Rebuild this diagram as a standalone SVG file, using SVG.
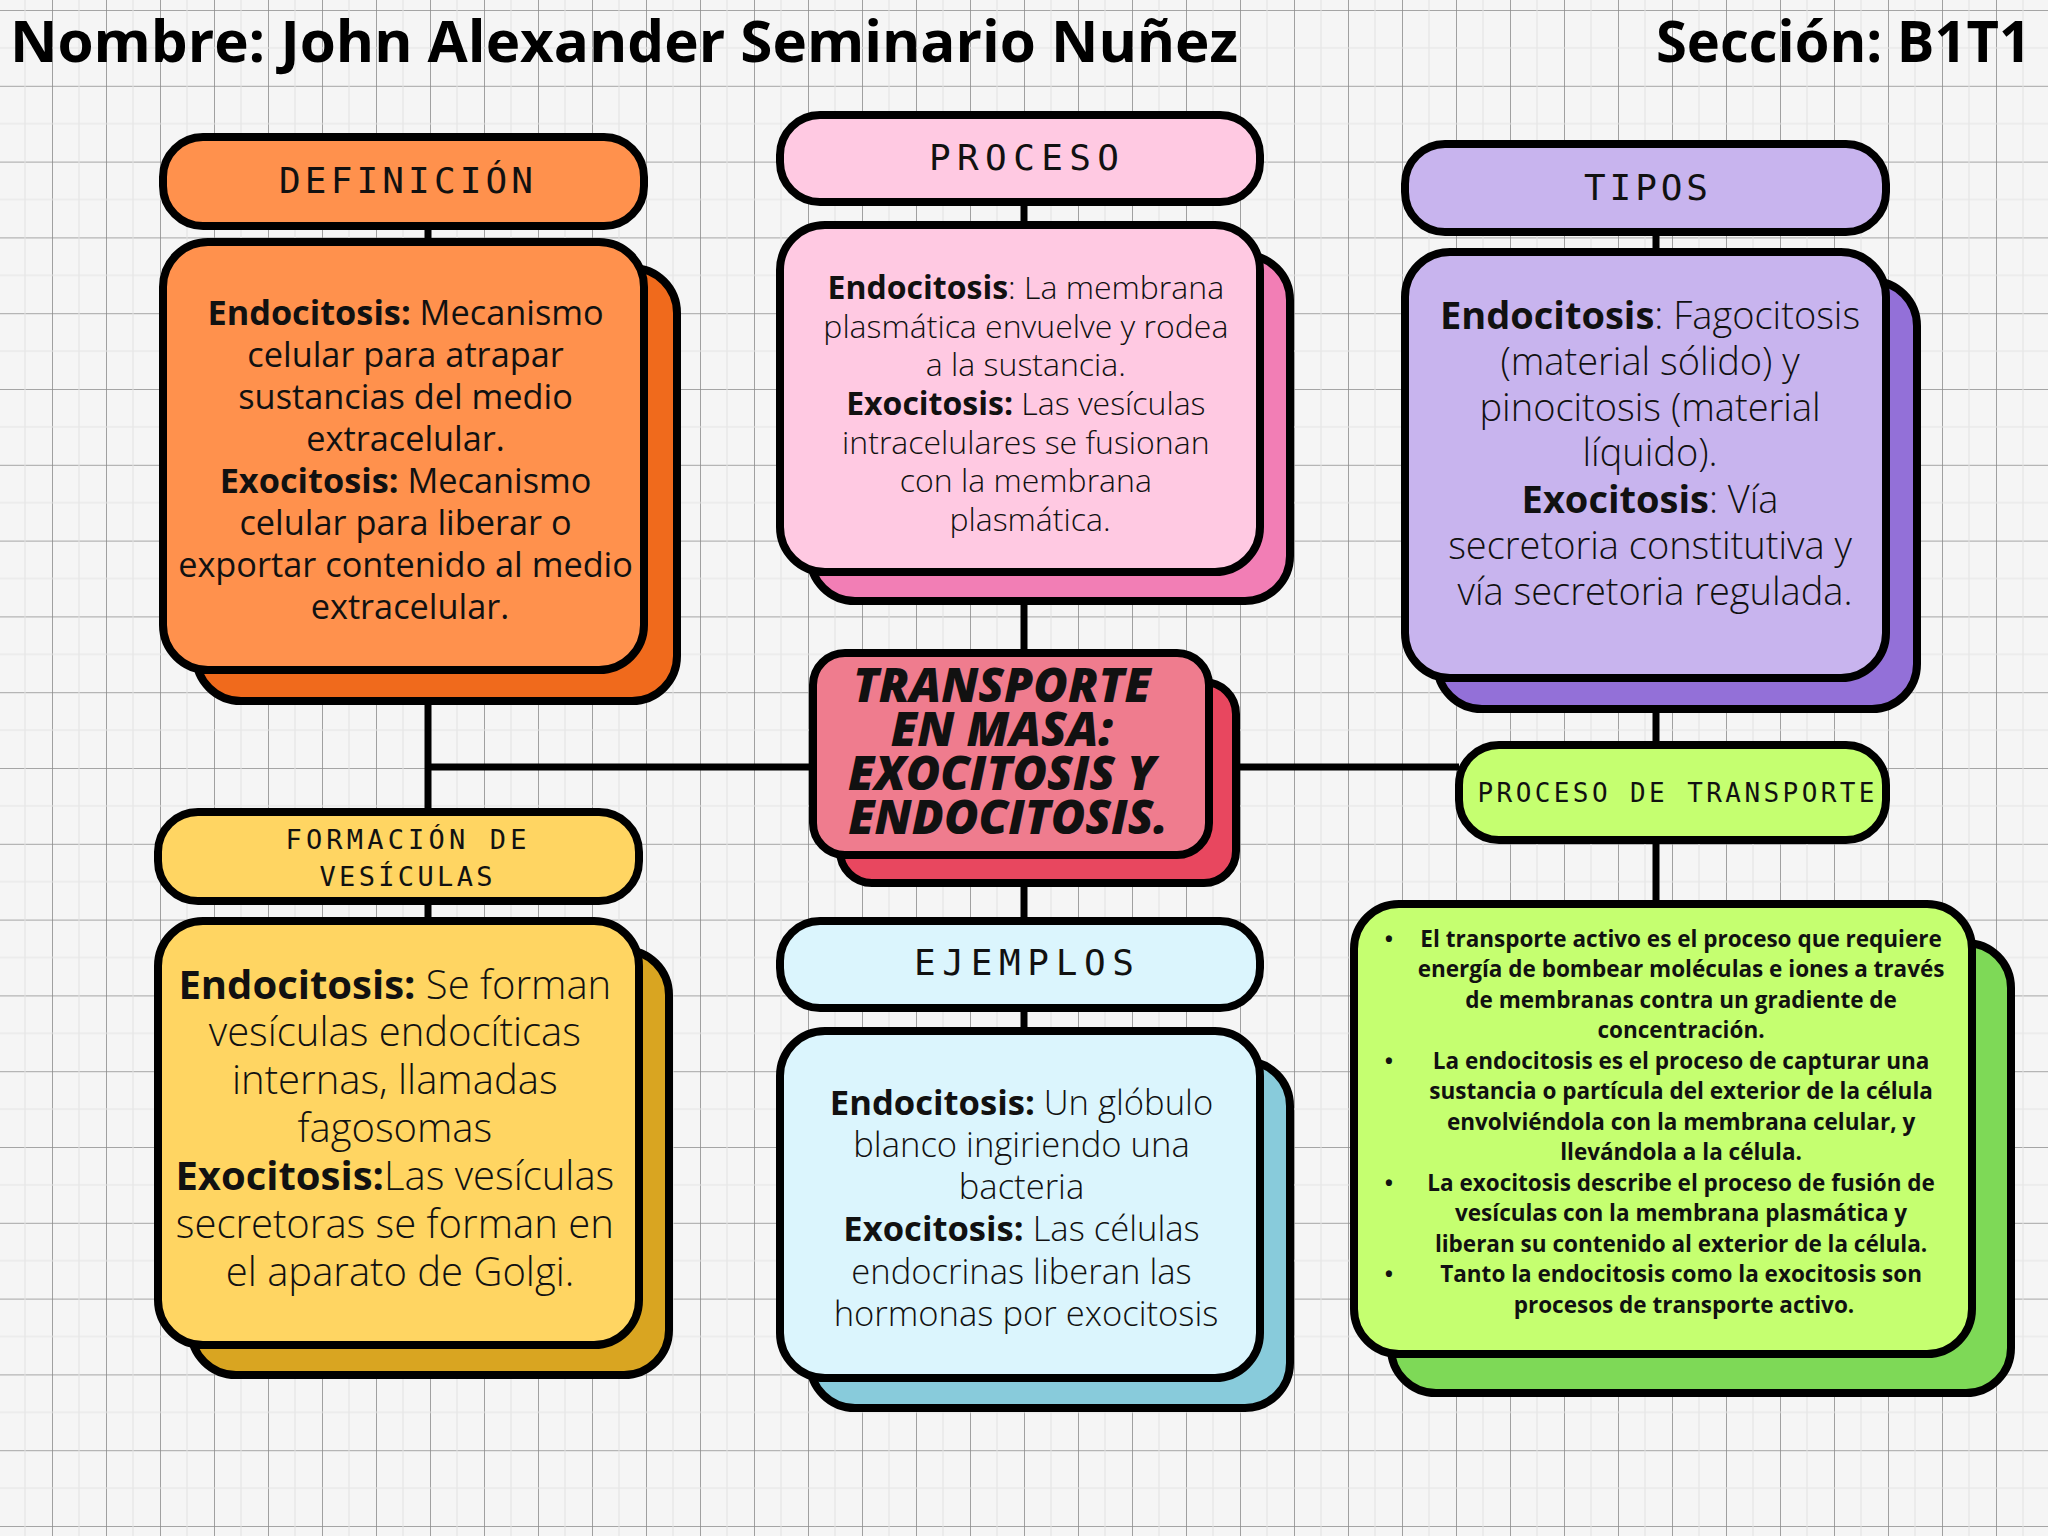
<svg xmlns="http://www.w3.org/2000/svg" width="2048" height="1536" viewBox="0 0 2048 1536">
<defs>
<pattern id="grid" patternUnits="userSpaceOnUse" x="52" y="10" width="54" height="75.8">
<line x1="0" y1="0" x2="0" y2="75.8" stroke="#8a8a8a" stroke-width="1.6"/>
<line x1="0" y1="0" x2="54" y2="0" stroke="#8a8a8a" stroke-width="1.6"/>
<line x1="27" y1="0" x2="27" y2="75.8" stroke="#e2e2e2" stroke-width="1"/>
<line x1="0" y1="37.9" x2="54" y2="37.9" stroke="#e4e4e4" stroke-width="1"/>
</pattern>
<style>
.box{stroke:#000;stroke-width:8}
.conn{stroke:#000;stroke-width:7;fill:none}
.hdr{font-family:"DejaVu Sans Mono","Liberation Mono",monospace;fill:#111;text-anchor:middle}
.body{font-family:"Open Sans","Liberation Sans",sans-serif;fill:#111;text-anchor:middle}
.b{font-weight:700}
.title{font-family:"Open Sans","Liberation Sans",sans-serif;font-weight:700;font-size:57px;fill:#000}
</style>
</defs>
<rect x="0" y="0" width="2048" height="1536" fill="#f5f5f5"/>
<rect x="0" y="0" width="2048" height="1536" fill="url(#grid)"/>

<text class="title" x="10" y="62" textLength="1228" lengthAdjust="spacingAndGlyphs">Nombre: John Alexander Seminario Nuñez</text>
<text class="title" x="1656" y="62" textLength="375" lengthAdjust="spacingAndGlyphs">Sección: B1T1</text>

<g id="connectors">
<line class="conn" x1="428" y1="226" x2="428" y2="246"/>
<line class="conn" x1="428" y1="700" x2="428" y2="815"/>
<line class="conn" x1="428" y1="767" x2="1459" y2="767"/>
<line class="conn" x1="428" y1="900" x2="428" y2="923"/>
<line class="conn" x1="1024" y1="200" x2="1024" y2="228"/>
<line class="conn" x1="1024" y1="600" x2="1024" y2="655"/>
<line class="conn" x1="1024" y1="882" x2="1024" y2="924"/>
<line class="conn" x1="1024" y1="1006" x2="1024" y2="1034"/>
<line class="conn" x1="1656" y1="230" x2="1656" y2="255"/>
<line class="conn" x1="1656" y1="707" x2="1656" y2="748"/>
<line class="conn" x1="1656" y1="838" x2="1656" y2="907"/>
</g>

<g id="definicion">
<rect class="box" x="163" y="137" width="481" height="89" rx="40" fill="#FF914D"/>
<text class="hdr" x="406" y="193" font-size="36" textLength="254" lengthAdjust="spacing">DEFINICIÓN</text>
<rect class="box" x="196" y="268" width="481" height="433" rx="45" fill="#F06A1C"/>
<rect class="box" x="163" y="242" width="481" height="428" rx="45" fill="#FF914D"/>
<text class="body" font-size="34.3">
<tspan x="410" y="325"><tspan class="b">Endocitosis:</tspan> Mecanismo</tspan>
<tspan x="410" y="367">celular para atrapar</tspan>
<tspan x="410" y="409">sustancias del medio</tspan>
<tspan x="410" y="451">extracelular.</tspan>
<tspan x="410" y="493"><tspan class="b">Exocitosis:</tspan> Mecanismo</tspan>
<tspan x="410" y="535">celular para liberar o</tspan>
<tspan x="410" y="577">exportar contenido al medio</tspan>
<tspan x="410" y="619">extracelular.</tspan>
</text>
</g>

<g id="proceso">
<rect class="box" x="780" y="115" width="480" height="87" rx="40" fill="#FFC9E2"/>
<text class="hdr" x="1024" y="170" font-size="36" textLength="190" lengthAdjust="spacing">PROCESO</text>
<rect class="box" x="810" y="255" width="480" height="346" rx="45" fill="#F27EB5"/>
<rect class="box" x="780" y="225" width="480" height="347" rx="45" fill="#FFC9E2"/>
<text class="body" font-size="32" font-weight="300">
<tspan x="1030" y="299"><tspan class="b">Endocitosis</tspan>: La membrana</tspan>
<tspan x="1030" y="338">plasmática envuelve y rodea</tspan>
<tspan x="1030" y="376">a la sustancia.</tspan>
<tspan x="1030" y="415"><tspan class="b">Exocitosis:</tspan> Las vesículas</tspan>
<tspan x="1030" y="454">intracelulares se fusionan</tspan>
<tspan x="1030" y="492">con la membrana</tspan>
<tspan x="1030" y="531">plasmática.</tspan>
</text>
</g>

<g id="tipos">
<rect class="box" x="1405" y="144" width="481" height="88" rx="40" fill="#C8B4EE"/>
<text class="hdr" x="1646" y="200" font-size="36" textLength="124" lengthAdjust="spacing">TIPOS</text>
<rect class="box" x="1437" y="281" width="480" height="428" rx="45" fill="#9370D8"/>
<rect class="box" x="1405" y="252" width="481" height="426" rx="45" fill="#C8B4EE"/>
<text class="body" font-size="38" font-weight="300">
<tspan x="1655" y="329"><tspan class="b">Endocitosis</tspan>: Fagocitosis</tspan>
<tspan x="1655" y="375">(material sólido) y</tspan>
<tspan x="1655" y="421">pinocitosis (material</tspan>
<tspan x="1655" y="466">líquido).</tspan>
<tspan x="1655" y="513"><tspan class="b">Exocitosis</tspan>: Vía</tspan>
<tspan x="1655" y="559">secretoria constitutiva y</tspan>
<tspan x="1655" y="605">vía secretoria regulada.</tspan>
</text>
</g>

<g id="central">
<rect class="box" x="840" y="682" width="396" height="201" rx="32" fill="#E8475F"/>
<rect class="box" x="813" y="653" width="396" height="202" rx="32" fill="#EF7C8E"/>
<text class="body" font-size="47" font-weight="800" font-style="italic">
<tspan x="1008" y="702">TRANSPORTE</tspan>
<tspan x="1008" y="746">EN MASA:</tspan>
<tspan x="1008" y="790">EXOCITOSIS Y</tspan>
<tspan x="1008" y="834">ENDOCITOSIS.</tspan>
</text>
</g>

<g id="formacion">
<rect class="box" x="158" y="812" width="481" height="89" rx="40" fill="#FFD562"/>
<text class="hdr" x="406" y="849" font-size="27" textLength="241" lengthAdjust="spacing">FORMACIÓN DE</text>
<text class="hdr" x="406" y="886" font-size="27" textLength="173" lengthAdjust="spacing">VESÍCULAS</text>
<rect class="box" x="191" y="950" width="478" height="425" rx="45" fill="#D9A521"/>
<rect class="box" x="158" y="921" width="481" height="424" rx="45" fill="#FFD562"/>
<text class="body" font-size="40" font-weight="300">
<tspan x="400" y="999"><tspan class="b">Endocitosis:</tspan> Se forman</tspan>
<tspan x="400" y="1046">vesículas endocíticas</tspan>
<tspan x="400" y="1094">internas, llamadas</tspan>
<tspan x="400" y="1142">fagosomas</tspan>
<tspan x="400" y="1190"><tspan class="b">Exocitosis:</tspan>Las vesículas</tspan>
<tspan x="400" y="1238">secretoras se forman en</tspan>
<tspan x="400" y="1286">el aparato de Golgi.</tspan>
</text>
</g>

<g id="ejemplos">
<rect class="box" x="780" y="921" width="480" height="87" rx="40" fill="#DBF5FD"/>
<text class="hdr" x="1024" y="975" font-size="36" textLength="220" lengthAdjust="spacing">EJEMPLOS</text>
<rect class="box" x="810" y="1061" width="480" height="347" rx="45" fill="#88CBDB"/>
<rect class="box" x="780" y="1031" width="480" height="347" rx="45" fill="#DBF5FD"/>
<text class="body" font-size="34.6" font-weight="300">
<tspan x="1026" y="1115"><tspan class="b">Endocitosis:</tspan> Un glóbulo</tspan>
<tspan x="1026" y="1157">blanco ingiriendo una</tspan>
<tspan x="1026" y="1199">bacteria</tspan>
<tspan x="1026" y="1241"><tspan class="b">Exocitosis:</tspan> Las células</tspan>
<tspan x="1026" y="1284">endocrinas liberan las</tspan>
<tspan x="1026" y="1326">hormonas por exocitosis</tspan>
</text>
</g>

<g id="proceso-transporte">
<rect class="box" x="1459" y="745" width="427" height="95" rx="40" fill="#C5FF70"/>
<text class="hdr" x="1676" y="802" font-size="26" textLength="397" lengthAdjust="spacing">PROCESO DE TRANSPORTE</text>
<rect class="box" x="1391" y="943" width="620" height="450" rx="45" fill="#7ED957"/>
<rect class="box" x="1354" y="904" width="618" height="450" rx="45" fill="#C5FF70"/>
<text class="body b" font-size="22.5">
<tspan x="1684" y="947">El transporte activo es el proceso que requiere</tspan>
<tspan x="1684" y="977">energía de bombear moléculas e iones a través</tspan>
<tspan x="1684" y="1008">de membranas contra un gradiente de</tspan>
<tspan x="1684" y="1038">concentración.</tspan>
<tspan x="1684" y="1069">La endocitosis es el proceso de capturar una</tspan>
<tspan x="1684" y="1099">sustancia o partícula del exterior de la célula</tspan>
<tspan x="1684" y="1130">envolviéndola con la membrana celular, y</tspan>
<tspan x="1684" y="1160">llevándola a la célula.</tspan>
<tspan x="1684" y="1191">La exocitosis describe el proceso de fusión de</tspan>
<tspan x="1684" y="1221">vesículas con la membrana plasmática y</tspan>
<tspan x="1684" y="1252">liberan su contenido al exterior de la célula.</tspan>
<tspan x="1684" y="1282">Tanto la endocitosis como la exocitosis son</tspan>
<tspan x="1684" y="1313">procesos de transporte activo.</tspan>
</text>
<g class="body b" font-size="22">
<text x="1389" y="947">•</text>
<text x="1389" y="1069">•</text>
<text x="1389" y="1191">•</text>
<text x="1389" y="1282">•</text>
</g>
</g>
</svg>
